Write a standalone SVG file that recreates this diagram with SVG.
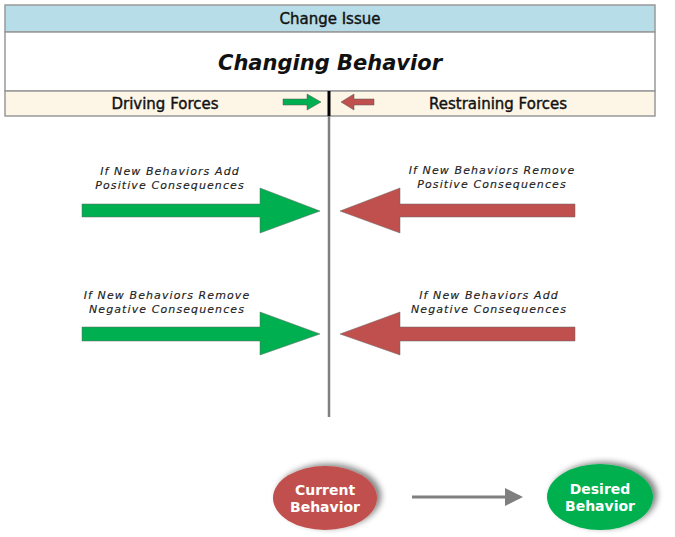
<svg xmlns="http://www.w3.org/2000/svg" width="675" height="537" viewBox="0 0 675 537">
<style>
text{font-family:"DejaVu Sans",Verdana,sans-serif;fill:#111}
.h{font-size:15px;text-anchor:middle;stroke:#111;stroke-width:0.4}
.l{font-size:11px;font-style:italic;text-anchor:middle;fill:#222;letter-spacing:1.1px;stroke:#222;stroke-width:0.15}
.n{font-size:14px;font-weight:bold;text-anchor:middle;fill:#fff}
.g{fill:#00b050}
.r{fill:#c0504d}
</style>
<defs>
<filter id="sh" x="-30%" y="-30%" width="160%" height="160%"><feGaussianBlur in="SourceAlpha" stdDeviation="3"/><feOffset dx="4" dy="-2"/><feComponentTransfer><feFuncA type="linear" slope="0.5"/></feComponentTransfer><feMerge><feMergeNode/><feMergeNode in="SourceGraphic"/></feMerge></filter>
<marker id="ah" markerWidth="6" markerHeight="6" refX="5" refY="3" orient="auto" markerUnits="strokeWidth"><path d="M0,0L6,3L0,6z" fill="#7f7f7f"/></marker>
</defs>
<g id="header">
<rect x="5" y="5" width="650" height="27" fill="#b6dde8" stroke="#999" stroke-width="1.5"/>
<text class="h" x="330" y="24">Change Issue</text>
<rect x="5" y="32" width="650" height="59" fill="#fff" stroke="#999" stroke-width="1.5"/>
<text x="330" y="70" style="font-size:21px;font-weight:bold;font-style:italic;text-anchor:middle">Changing Behavior</text>
<rect x="5" y="91" width="650" height="25" fill="#fdf5e6" stroke="#999" stroke-width="1.5"/>
<text class="h" x="165" y="109">Driving Forces</text>
<text class="h" x="498" y="109">Restraining Forces</text>
<path class="g" d="M283,99h24v-5l14,8l-14,8v-5h-24z" stroke="#555" stroke-width="0.5"/>
<path class="r" d="M374,99h-20v-5l-13,8l13,8v-5h20z" stroke="#555" stroke-width="0.5"/>
</g>
<g id="connectors">
<line x1="329" y1="116" x2="329" y2="417" stroke="#7f7f7f" stroke-width="2.5"/>
<line x1="329" y1="91" x2="329" y2="116" stroke="#000" stroke-width="3"/>
<line x1="412" y1="497" x2="520" y2="497" stroke="#7f7f7f" stroke-width="3" marker-end="url(#ah)"/>
</g>
<g id="arrow-g1"><path class="g" d="M82,204h178v-16l60,23l-60,22v-16h-178z" stroke="#666" stroke-width="0.5"/>
<text class="l" x="170" y="175">If New Behaviors Add</text><text class="l" x="170" y="189">Positive Consequences</text></g>
<g id="arrow-r1"><path class="r" d="M575,204h-175v-16l-60,23l60,22v-16h175z" stroke="#666" stroke-width="0.5"/>
<text class="l" x="492" y="174">If New Behaviors Remove</text><text class="l" x="492" y="188">Positive Consequences</text></g>
<g id="arrow-g2"><path class="g" d="M82,327h178v-15l60,22l-60,21v-14h-178z" stroke="#666" stroke-width="0.5"/>
<text class="l" x="167" y="299">If New Behaviors Remove</text><text class="l" x="167" y="313">Negative Consequences</text></g>
<g id="arrow-r2"><path class="r" d="M575,327h-175v-15l-60,22l60,21v-14h175z" stroke="#666" stroke-width="0.5"/>
<text class="l" x="489" y="299">If New Behaviors Add</text><text class="l" x="489" y="313">Negative Consequences</text></g>
<g id="current"><ellipse class="r" cx="325" cy="498" rx="52" ry="32" filter="url(#sh)"/>
<text class="n" x="325" y="495">Current</text><text class="n" x="325" y="512">Behavior</text></g>
<g id="desired"><ellipse class="g" cx="600" cy="497" rx="53" ry="33" filter="url(#sh)"/>
<text class="n" x="600" y="494">Desired</text><text class="n" x="600" y="511">Behavior</text></g>
</svg>
